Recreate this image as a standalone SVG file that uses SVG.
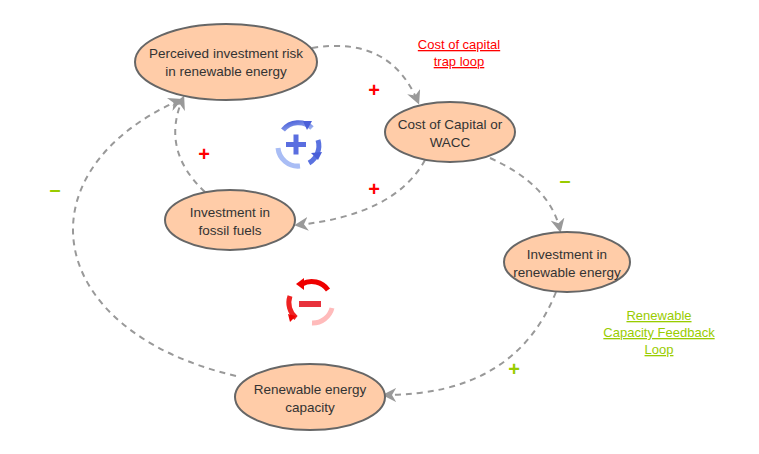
<svg xmlns="http://www.w3.org/2000/svg" width="759" height="454" viewBox="0 0 759 454">
<defs>
<style>
.n{fill:#ffcca8;stroke:#666;stroke-width:2}
.t{font-family:"Liberation Sans",sans-serif;font-size:13.5px;fill:#333;text-anchor:middle}
.c{fill:none;stroke:#999;stroke-width:2;stroke-dasharray:6,5}
.s{font-family:"Liberation Sans",sans-serif;font-weight:bold;font-size:20px;text-anchor:middle}
.l{font-family:"Liberation Sans",sans-serif;font-size:13px;text-anchor:middle;text-decoration:underline}
</style>
<marker id="a" viewBox="0 0 10 10" refX="8" refY="5" markerWidth="7" markerHeight="7" orient="auto"><path d="M0,0 L10,5 L0,10 L3,5 Z" fill="#999"/></marker>
<linearGradient id="gb" x1="0" y1="0" x2="1" y2="1"><stop offset="0" stop-color="#4a5fd8"/><stop offset="1" stop-color="#a9bdf5"/></linearGradient>
</defs>
<rect width="759" height="454" fill="#fff"/>
<g id="connectors">
<path class="c" d="M312,48 Q390,35 418,102" marker-end="url(#a)"/>
<path class="c" d="M425,160 Q395,215 297,225" marker-end="url(#a)"/>
<path class="c" d="M205,192 Q160,150 183,98" marker-end="url(#a)"/>
<path class="c" d="M490,158 Q550,185 560,230" marker-end="url(#a)"/>
<path class="c" d="M556,292 Q515,395 385,395" marker-end="url(#a)"/>
<path class="c" d="M236,376 C40,330 20,170 180,100" marker-end="url(#a)"/>
</g>
<g id="n1"><ellipse class="n" cx="226" cy="62" rx="91" ry="38"/><text class="t" x="226" y="58">Perceived investment risk</text><text class="t" x="226" y="76">in renewable energy</text></g>
<g id="n2"><ellipse class="n" cx="450" cy="132" rx="65" ry="30"/><text class="t" x="450" y="129">Cost of Capital or</text><text class="t" x="450" y="147">WACC</text></g>
<g id="n3"><ellipse class="n" cx="230" cy="220" rx="65" ry="30"/><text class="t" x="230" y="217">Investment in</text><text class="t" x="230" y="235">fossil fuels</text></g>
<g id="n4"><ellipse class="n" cx="567" cy="262" rx="63" ry="30"/><text class="t" x="567" y="259">Investment in</text><text class="t" x="567" y="277">renewable energy</text></g>
<g id="n5"><ellipse class="n" cx="310" cy="397" rx="75" ry="33"/><text class="t" x="310" y="394">Renewable energy</text><text class="t" x="310" y="412">capacity</text></g>
<g id="loop-plus">
<path d="M283,130 A20,20 0 0 1 312,128" fill="none" stroke="url(#gb)" stroke-width="5"/>
<path d="M318,140 A20,20 0 0 1 309,163" fill="none" stroke="#5a72e0" stroke-width="5"/>
<path d="M300,166 A20,20 0 0 1 278,148" fill="none" stroke="#a9bdf5" stroke-width="5"/>
<path d="M312,121 L303,121 L307,130 Z" fill="#4a5fd8"/>
<path d="M322,152 L318,160 L311,153 Z" fill="#4a5fd8"/>
<rect x="286" y="142" width="20" height="5" fill="#5a6ee0"/><rect x="293.5" y="134.5" width="5" height="20" fill="#5a6ee0"/>
</g>
<g id="loop-minus">
<path d="M302,284 A20,20 0 0 1 328,290" fill="none" stroke="#e00" stroke-width="5"/>
<path d="M332,308 A20,20 0 0 1 312,323" fill="none" stroke="#fbb" stroke-width="5"/>
<path d="M296,318 A20,20 0 0 1 290,296" fill="none" stroke="#e22" stroke-width="5"/>
<path d="M304,278 L304,290 L296,284 Z" fill="#e00"/>
<path d="M290,322 L288,314 L296,316 Z" fill="#e00"/>
<rect x="299" y="301" width="22" height="6" fill="#e8323c"/>
</g>
<g id="labels">
<text class="s" x="374" y="97" fill="#f00">+</text>
<text class="s" x="204" y="161" fill="#f00">+</text>
<text class="s" x="374" y="196" fill="#f00">+</text>
<text class="s" x="55" y="196" fill="#9c0">–</text>
<text class="s" x="565" y="187" fill="#9c0">–</text>
<text class="s" x="514" y="376" fill="#9c0">+</text>
<text class="l" x="459" y="49" fill="#f00">Cost of capital</text>
<text class="l" x="459" y="66" fill="#f00">trap loop</text>
<text class="l" x="659" y="320" fill="#9c0">Renewable</text>
<text class="l" x="659" y="337" fill="#9c0">Capacity Feedback</text>
<text class="l" x="659" y="354" fill="#9c0">Loop</text>
</g>
</svg>
